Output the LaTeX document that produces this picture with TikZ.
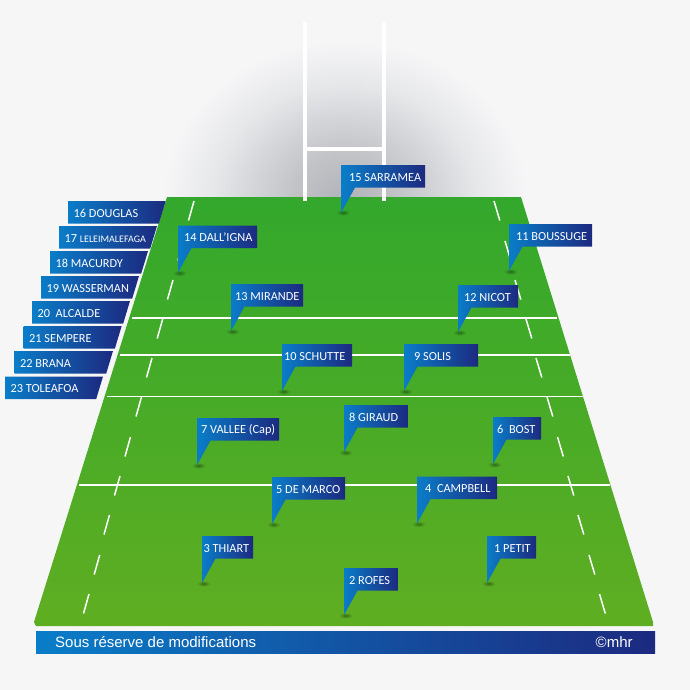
\documentclass[tikz,border=0pt]{standalone}
\usepackage{fontspec}
\setmainfont{Carlito}
\newfontfamily\bannerfont{Liberation Sans}
\definecolor{bgc}{HTML}{F6F6F7}
\definecolor{glowa}{HTML}{B2B3B8}
\definecolor{glowb}{HTML}{C2C3C7}
\definecolor{glowc}{HTML}{D5D6D9}
\definecolor{glowd}{HTML}{E6E7E9}
\definecolor{fieldtop}{HTML}{33A82C}
\definecolor{fieldlow}{HTML}{5FAE22}
\definecolor{blueL}{HTML}{0A7DC8}
\definecolor{blueM}{HTML}{0A4A9C}
\definecolor{blueR}{HTML}{1C2A80}
\pgfdeclareradialshading{glow}{\pgfpoint{0bp}{0bp}}{color(0bp)=(glowa); color(7bp)=(glowb); color(13bp)=(glowc); color(18bp)=(glowd); color(25bp)=(bgc); color(50bp)=(bgc)}
\tikzset{
  x=1pt,y=-1pt,
  fieldline/.style={draw=white,line width=1.8pt},
  dashline/.style={draw=white,line width=1.5pt},
  post/.style={draw=white,line width=4pt},
  flagfill/.style={left color=blueL,right color=blueR},
  labeltext/.style={text=white,font=\fontsize{12.3}{12.3}\selectfont,inner sep=0pt,anchor=west},
  bannertext/.style={text=white,font=\bannerfont\fontsize{15}{15}\selectfont,inner sep=0pt,anchor=west},
}
% id, x0, x1, y0, text x, text
\newcommand{\flagmark}[6]{%
  \fill[black,opacity=.08] (#2+2,#4+48) ellipse [x radius=6.5,y radius=2.6];
  \fill[black,opacity=.12] (#2+2,#4+48) ellipse [x radius=4.5,y radius=1.8];
  \fill[black,opacity=.14] (#2+2,#4+48) ellipse [x radius=2.5,y radius=1];
  \shade[flagfill] (#2,#4) -- (#3,#4) -- (#3,#4+22.5) -- (#2+13.5,#4+22.5) -- (#2,#4+47) -- cycle;
  \node[labeltext] (#1) at (#5,#4+12.2) {#6};
}
% id, x0, x right top, y0, text
\newcommand{\benchrow}[5]{%
  \shade[flagfill] (#2,#4) -- (#3,#4) -- (#3-6.8,#4+22.5) -- (#2,#4+22.5) -- cycle;
  \node[labeltext] (#1) at (#2+5.5,#4+12.2) {#5};
}
\begin{document}
\begin{tikzpicture}
\useasboundingbox (0,0) rectangle (690,690);
\fill[bgc] (0,0) rectangle (690,690);
% glow behind the posts
\begin{scope}
  \clip (0,0) rectangle (690,197);
  \shade[shading=glow] (345,198) ellipse [x radius=182,y radius=158];
\end{scope}
% field
\shade[top color=fieldtop,middle color=fieldlow,bottom color=fieldlow]
  (167,197) -- (521,197) -- (653,622) -- (653,626) -- (36,626) -- (34,622) -- cycle;
% posts
\draw[post] (305,22) -- (305,200.5);
\draw[post] (384,22) -- (384,200.5);
\draw[post,line width=3.5pt] (305,149) -- (384,149);
% field lines
\draw[fieldline] (132,318) -- (557,318);
\draw[fieldline] (120,355) -- (570,355);
\draw[fieldline] (107,396.5) -- (583,396.5);
\draw[fieldline] (79,485) -- (610,485);
% dashes left
\foreach \xx/\yy in {194/201,183.5/241,173/280,162.7/319,152/358,141.5/397,130.5/437,120/476,109.5/515,99.7/555,89/594}
  \draw[dashline] (\xx,\yy) -- (\xx-5.5,\yy+19.5);
% dashes right
\foreach \xx/\yy in {494/201,505/241,515/280,526/319,536/358,547/397,557.5/437,568/476,578/515,589/555,599.5/594}
  \draw[dashline] (\xx,\yy) -- (\xx+5.8,\yy+19.5);
% banner
\shade[left color=blueL,middle color=blueM,right color=blueR] (36,631) rectangle (655,653);
\node[bannertext] (note) at (55,642) {Sous réserve de modifications};
\node[bannertext] (copy) at (595.5,642) {©mhr};
% bench
\benchrow{b16}{68}{165.7}{201}{16 DOUGLAS}
\benchrow{b17}{59}{157}{226}{17 {\fontsize{10}{10}\selectfont LELEIMALEFAGA}}
\benchrow{b18}{50}{148}{251}{18 MACURDY}
\benchrow{b19}{41}{139}{276}{19 WASSERMAN}
\benchrow{b20}{32}{130}{301}{20~ ALCALDE}
\benchrow{b21}{23.5}{121.7}{326}{21 SEMPERE}
\benchrow{b22}{14.5}{113}{351}{22 BRANA}
\benchrow{b23}{5}{103}{376.5}{23 TOLEAFOA}
% players
\flagmark{p15}{341.5}{425}{165}{349}{15 SARRAMEA}
\flagmark{p14}{178}{257}{225.5}{184}{14 DALL'IGNA}
\flagmark{p11}{509}{592}{224}{516}{11 BOUSSUGE}
\flagmark{p13}{231}{303}{284}{235}{13 MIRANDE}
\flagmark{p12}{458}{518}{285}{464}{12 NICOT}
\flagmark{p10}{282}{352}{344}{284}{10 SCHUTTE}
\flagmark{p9}{404}{478}{344}{414}{9 SOLIS}
\flagmark{p7}{197}{279}{418}{201}{7 VALLEE (Cap)}
\flagmark{p8}{344}{408}{405}{349}{8 GIRAUD}
\flagmark{p6}{493}{541}{417}{497}{6~ BOST}
\flagmark{p5}{272}{345}{477}{276}{5 DE MARCO}
\flagmark{p4}{417}{497}{476.5}{425}{4~ CAMPBELL}
\flagmark{p3}{202}{253}{536}{203.5}{3 THIART}
\flagmark{p1}{487}{536}{536}{494}{1 PETIT}
\flagmark{p2}{344}{398}{568}{349}{2 ROFES}
\end{tikzpicture}
\end{document}
